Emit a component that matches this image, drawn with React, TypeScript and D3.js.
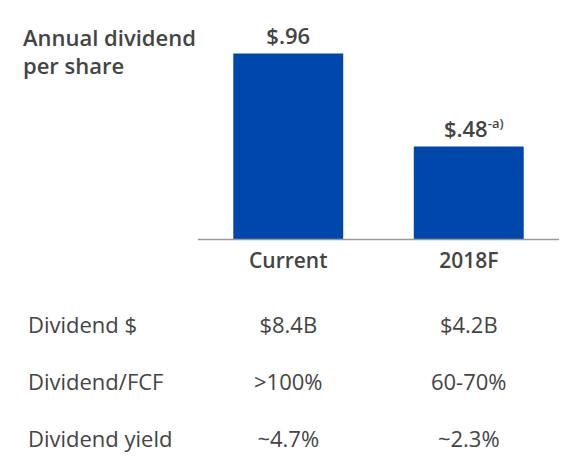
import * as d3 from "d3";

// Annual dividend per share (bars)
const categories = ["Current", "2018F"];
const dividendPerShare = [0.96, 0.48];
const valueLabels = ["$.96", "$.48"];
const footnotes = ["", "-a)"];

// Table below the chart
const rowLabels = ["Dividend $", "Dividend/FCF", "Dividend yield"];
const currentCol = ["$8.4B", ">100%", "~4.7%"];
const forecastCol = ["$4.2B", "60-70%", "~2.3%"];

const W = 568;
const H = 461;
const BLUE = "#0047ab";
const TEXT = "#444444";
const FONT = "'Open Sans', 'DejaVu Sans', sans-serif";

export default function App() {
  const x = d3
    .scaleBand<string>()
    .domain(categories)
    .range([198, 559])
    .paddingInner(0.391)
    .paddingOuter(0.1955);
  const y = d3.scaleLinear().domain([0, 0.96]).range([239.5, 53.5]);
  const rowY = d3.scalePoint<string>().domain(rowLabels).range([333, 447]);

  const cols = [currentCol, forecastCol];
  const [x0, x1] = x.range();

  return (
    <svg
      width={W}
      height={H}
      style={{ position: "absolute", left: 0, top: 0, fontFamily: FONT }}
    >
      <rect width={W} height={H} fill="#fff" />

      {/* title */}
      <text x={23} y={46} fontSize={22} fontWeight={600} fill={TEXT}>
        Annual dividend
      </text>
      <text x={23} y={74} fontSize={22} fontWeight={600} fill={TEXT}>
        per share
      </text>

      {/* bars */}
      {categories.map((c, i) => (
        <rect
          key={c}
          x={x(c)}
          y={y(dividendPerShare[i])}
          width={x.bandwidth()}
          height={y(0) - y(dividendPerShare[i])}
          fill={BLUE}
        />
      ))}

      {/* value labels */}
      {categories.map((c, i) => {
        const cx = x(c)! + x.bandwidth() / 2 + (footnotes[i] ? 5 : 0);
        return (
          <text
            key={c}
            x={cx}
            y={y(dividendPerShare[i]) - 10}
            textAnchor="middle"
            fontSize={22}
            fontWeight={600}
            fill={TEXT}
          >
            {valueLabels[i]}
            {footnotes[i] && (
              <tspan fontSize={13} fontWeight={600} dy={-9}>
                {footnotes[i]}
              </tspan>
            )}
          </text>
        );
      })}

      {/* baseline */}
      <line x1={x0} x2={x1} y1={y(0)} y2={y(0)} stroke="#9a9a9a" strokeWidth={1.5} />

      {/* category labels */}
      {categories.map((c) => (
        <text
          key={c}
          x={x(c)! + x.bandwidth() / 2}
          y={268}
          textAnchor="middle"
          fontSize={21}
          fontWeight={600}
          fill={TEXT}
        >
          {c}
        </text>
      ))}

      {/* table */}
      {rowLabels.map((r, j) => (
        <g key={r}>
          <text x={28} y={rowY(r)} fontSize={22} fontWeight={500} fill={TEXT}>
            {r}
          </text>
          {categories.map((c, i) => (
            <text
              key={c}
              x={x(c)! + x.bandwidth() / 2}
              y={rowY(r)}
              textAnchor="middle"
              fontSize={22}
              fontWeight={500}
              fill={TEXT}
            >
              {cols[i][j]}
            </text>
          ))}
        </g>
      ))}
    </svg>
  );
}
